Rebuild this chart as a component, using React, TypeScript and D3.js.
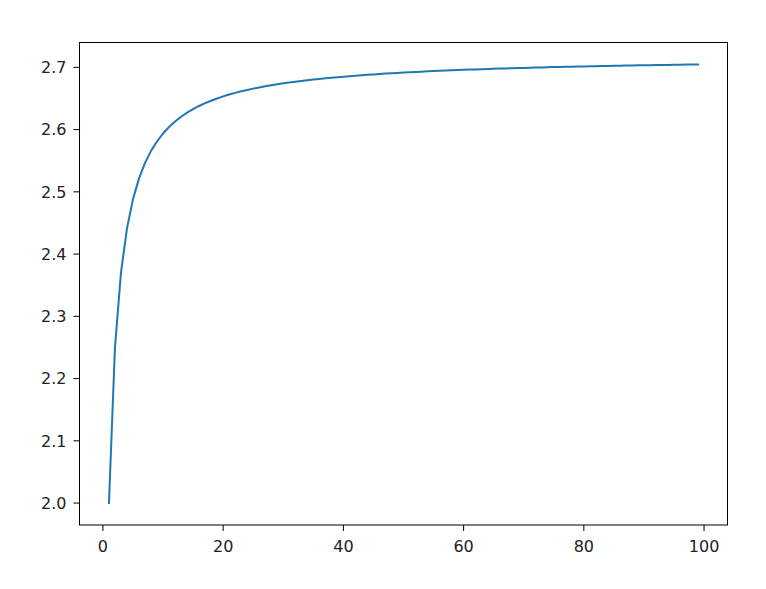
import React from "react";
import * as d3 from "d3";

const nValues: number[] = Array.from({ length: 99 }, (_, i) => i + 1);
const seriesValues: number[] = [
  2.0, 2.25, 2.37037, 2.44141, 2.48832, 2.52163, 2.54650, 2.56578, 2.58117, 2.59374,
  2.60420, 2.61304, 2.62060, 2.62721, 2.63288, 2.63793, 2.64244, 2.64641, 2.65003, 2.65330,
  2.65626, 2.65897, 2.66145, 2.66373, 2.66583, 2.66778, 2.66959, 2.67128, 2.67285, 2.67432,
  2.67570, 2.67699, 2.67821, 2.67936, 2.68044, 2.68146, 2.68243, 2.68336, 2.68423, 2.68506,
  2.68587, 2.68663, 2.68735, 2.68803, 2.68869, 2.68932, 2.68993, 2.69051, 2.69106, 2.69159,
  2.69211, 2.69260, 2.69308, 2.69354, 2.69398, 2.69441, 2.69482, 2.69522, 2.69560, 2.69598,
  2.69634, 2.69668, 2.69702, 2.69735, 2.69767, 2.69798, 2.69827, 2.69856, 2.69885, 2.69912,
  2.69939, 2.69965, 2.69990, 2.70014, 2.70038, 2.70062, 2.70084, 2.70106, 2.70128, 2.70149,
  2.70169, 2.70189, 2.70209, 2.70228, 2.70246, 2.70265, 2.70282, 2.70300, 2.70317, 2.70333,
  2.70350, 2.70366, 2.70381, 2.70396, 2.70411, 2.70426, 2.70440, 2.70454, 2.70468,
];
const xTicks: number[] = [0, 20, 40, 60, 80, 100];
const yTicks: number[] = [2.0, 2.1, 2.2, 2.3, 2.4, 2.5, 2.6, 2.7];

export default function App() {
  const W = 766, H = 589;
  const left = 79.5, right = 727.5, top = 42.5, bottom = 525;
  const xMin = d3.min(nValues)!, xMax = d3.max(nValues)!;
  const yMin = d3.min(seriesValues)!, yMax = d3.max(seriesValues)!;
  const xm = (xMax - xMin) * 0.05, ym = (yMax - yMin) * 0.05;
  const x = d3.scaleLinear().domain([xMin - xm, xMax + xm]).range([left, right]);
  const y = d3.scaleLinear().domain([yMin - ym, yMax + ym]).range([bottom, top]);
  const line = d3.line<number>().x((_, i) => x(nValues[i])).y((d) => y(d));
  const font = "DejaVu Sans, sans-serif";
  const fs = 16;
  return (
    <svg width={W} height={H} style={{ position: "absolute", left: 0, top: 0, background: "#fff" }}>
      <rect x={0} y={0} width={W} height={H} fill="#fff" />
      <path d={line(seriesValues) || ""} fill="none" stroke="#1f77b4" strokeWidth={2} strokeLinejoin="round" strokeLinecap="square" />
      <rect x={left} y={top} width={right - left} height={bottom - top} fill="none" stroke="#000" strokeWidth={1} />
      {xTicks.map((t) => (
        <g key={"x" + t}>
          <line x1={x(t)} x2={x(t)} y1={bottom} y2={bottom + 6} stroke="#000" strokeWidth={1} />
          <text x={x(t)} y={bottom + 27} textAnchor="middle" fontFamily={font} fontSize={fs} fill="#222">
            {String(t)}
          </text>
        </g>
      ))}
      {yTicks.map((t) => (
        <g key={"y" + t}>
          <line x1={left - 6} x2={left} y1={y(t)} y2={y(t)} stroke="#000" strokeWidth={1} />
          <text x={left - 13} y={y(t)} dy="0.36em" textAnchor="end" fontFamily={font} fontSize={fs} fill="#222">
            {t.toFixed(1)}
          </text>
        </g>
      ))}
    </svg>
  );
}
